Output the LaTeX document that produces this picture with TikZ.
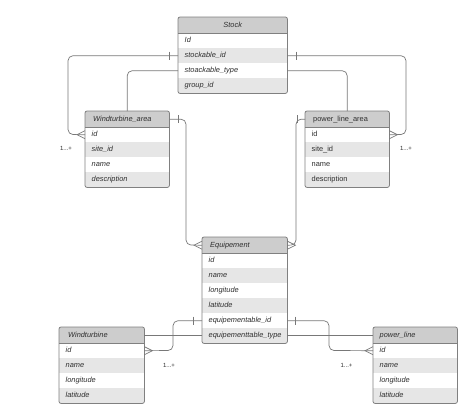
\documentclass[tikz,border=0pt]{standalone}
\usepackage{fontspec}
\setmainfont{Liberation Sans}
\usetikzlibrary{calc}
\definecolor{hdr}{HTML}{CDCDCD}
\definecolor{alt}{HTML}{E6E6E6}
\definecolor{frm}{HTML}{808080}
\definecolor{txt}{HTML}{2E2E2E}
\definecolor{lnc}{HTML}{787878}
\tikzset{
  rowbox/.style={text width=#1, inner xsep=6.5pt, inner ysep=0pt, minimum height=15pt,
    text height=5.5pt, text depth=1.6pt, align=left, anchor=north west,
    font=\fontsize{7.4}{8}\selectfont\itshape, text=txt},
  hdrbox/.style={rowbox=#1, minimum height=16pt, fill=hdr},
  frame/.style={draw=frm, line width=0.8pt, rounded corners=2pt},
  conn/.style={draw=lnc, line width=0.7pt, rounded corners=5pt},
  tickline/.style={draw=lnc, line width=0.7pt},
  lbl/.style={font=\fontsize{6}{7}\selectfont, text=txt, inner sep=0pt},
  upr/.style={font=\fontsize{7.4}{8}\selectfont\upshape}
}
\newcommand\barmark[2]{\draw[tickline] ($(#1)+(#2,-4)$) -- ($(#1)+(#2,4)$);}
\newcommand\crowW[1]{\draw[tickline] ($(#1)+(0,-4)$) -- ($(#1)+(-8,0)$) -- ($(#1)+(0,4)$);}
\newcommand\crowE[1]{\draw[tickline] ($(#1)+(0,-4)$) -- ($(#1)+(8,0)$) -- ($(#1)+(0,4)$);}
\begin{document}
\begin{tikzpicture}[x=1pt,y=-1pt]
\useasboundingbox[fill=white] (0,0) rectangle (474,420);

% ---- Stock ----
\node[hdrbox=96pt, align=center] (stock-h) at (178,17) {Stock};
\node[rowbox=96pt] (stock-1) at (178,33) {Id};
\node[rowbox=96pt, fill=alt] (stock-2) at (178,48) {stockable\_id};
\node[rowbox=96pt] (stock-3) at (178,63) {stoackable\_type};
\node[rowbox=96pt, fill=alt] (stock-4) at (178,78) {group\_id};
\draw[frame] (stock-h.north west) rectangle (stock-4.south east);
\draw[draw=frm, line width=0.6pt] (stock-h.south west) -- (stock-h.south east);

% ---- Windturbine_area ----
\node[hdrbox=71pt] (wta-h) at (85,111) {\hspace*{1.5pt}Windturbine\_area};
\node[rowbox=71pt] (wta-1) at (85,127) {id};
\node[rowbox=71pt, fill=alt] (wta-2) at (85,142) {site\_id};
\node[rowbox=71pt] (wta-3) at (85,157) {name};
\node[rowbox=71pt, fill=alt] (wta-4) at (85,172) {description};
\draw[frame] (wta-h.north west) rectangle (wta-4.south east);
\draw[draw=frm, line width=0.6pt] (wta-h.south west) -- (wta-h.south east);

% ---- power_line_area ----
\node[hdrbox=71pt, upr] (pla-h) at (305,111) {\hspace*{1.5pt}power\_line\_area};
\node[rowbox=71pt, upr] (pla-1) at (305,127) {id};
\node[rowbox=71pt, upr, fill=alt] (pla-2) at (305,142) {site\_id};
\node[rowbox=71pt, upr] (pla-3) at (305,157) {name};
\node[rowbox=71pt, upr, fill=alt] (pla-4) at (305,172) {description};
\draw[frame] (pla-h.north west) rectangle (pla-4.south east);
\draw[draw=frm, line width=0.6pt] (pla-h.south west) -- (pla-h.south east);

% ---- Equipement ----
\node[hdrbox=72pt] (eq-h) at (202,237) {\hspace*{1.5pt}Equipement};
\node[rowbox=72pt] (eq-1) at (202,253) {id};
\node[rowbox=72pt, fill=alt] (eq-2) at (202,268) {name};
\node[rowbox=72pt] (eq-3) at (202,283) {longitude};
\node[rowbox=72pt, fill=alt] (eq-4) at (202,298) {latitude};
\node[rowbox=72pt] (eq-5) at (202,313) {equipementable\_id};
\node[rowbox=72pt, fill=alt] (eq-6) at (202,328) {equipementtable\_type};
\draw[frame] (eq-h.north west) rectangle (eq-6.south east);
\draw[draw=frm, line width=0.6pt] (eq-h.south west) -- (eq-h.south east);

% ---- Windturbine ----
\node[hdrbox=72pt] (wt-h) at (59,327) {\hspace*{2.5pt}Windturbine};
\node[rowbox=72pt] (wt-1) at (59,343) {id};
\node[rowbox=72pt, fill=alt] (wt-2) at (59,358) {name};
\node[rowbox=72pt] (wt-3) at (59,373) {longitude};
\node[rowbox=72pt, fill=alt] (wt-4) at (59,388) {latitude};
\draw[frame] (wt-h.north west) rectangle (wt-4.south east);
\draw[draw=frm, line width=0.6pt] (wt-h.south west) -- (wt-h.south east);

% ---- power_line ----
\node[hdrbox=71pt] (pl-h) at (373,327) {power\_line};
\node[rowbox=71pt] (pl-1) at (373,343) {id};
\node[rowbox=71pt, fill=alt] (pl-2) at (373,358) {name};
\node[rowbox=71pt] (pl-3) at (373,373) {longitude};
\node[rowbox=71pt, fill=alt] (pl-4) at (373,388) {latitude};
\draw[frame] (pl-h.north west) rectangle (pl-4.south east);
\draw[draw=frm, line width=0.6pt] (pl-h.south west) -- (pl-h.south east);

% ---- connectors ----
\draw[conn] (stock-2.west) -| (68,134.5) -- (wta-1.west);
\barmark{stock-2.west}{-9}
\crowW{wta-1.west}
\draw[conn] (stock-3.west) -| (wta-h.north);

\draw[conn] (stock-2.east) -| (406,134.5) -- (pla-1.east);
\barmark{stock-2.east}{9}
\crowE{pla-1.east}
\draw[conn] (stock-3.east) -| (pla-h.north);

\draw[conn] (wta-h.east) -| (186,245) -- (eq-h.west);
\barmark{wta-h.east}{9}
\crowW{eq-h.west}

\draw[conn] (pla-h.west) -| (296,245) -- (eq-h.east);
\barmark{pla-h.west}{-8}
\crowE{eq-h.east}

\draw[conn] (eq-5.west) -| (173,350.5) -- (wt-1.east);
\barmark{eq-5.west}{-9}
\crowE{wt-1.east}
\draw[conn] (eq-6.west) -- (eq-6.west -| wt-h.east);

\draw[conn] (eq-5.east) -| (329,350.5) -- (pl-1.west);
\barmark{eq-5.east}{8}
\crowW{pl-1.west}
\draw[conn] (eq-6.east) -- (eq-6.east -| pl-h.west);

% ---- labels ----
\node[lbl] (lab1) at (66,148) {1...+};
\node[lbl] (lab2) at (406,148) {1...+};
\node[lbl] (lab3) at (169,365) {1...+};
\node[lbl] (lab4) at (346.5,365) {1...+};
\end{tikzpicture}
\end{document}
